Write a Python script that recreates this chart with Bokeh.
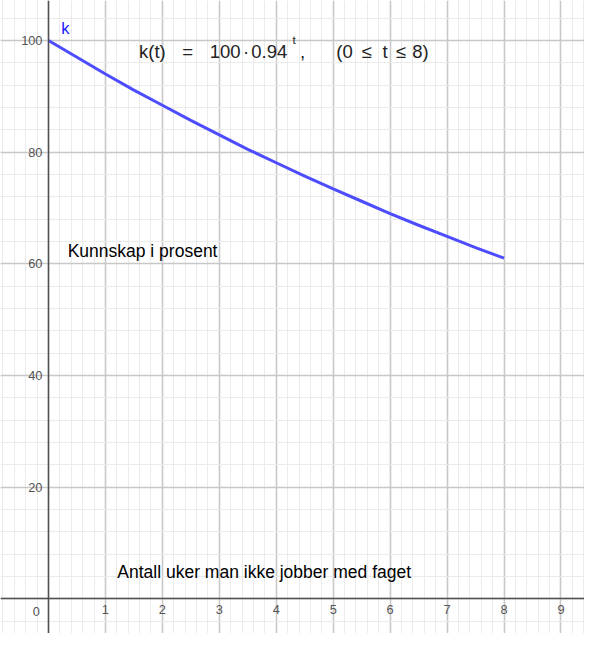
from bokeh.plotting import figure
from bokeh.models import Range1d, FixedTicker, SingleIntervalTicker
from bokeh.core.properties import value
from bokeh.embed import file_html
from bokeh.resources import INLINE

# weeks without working with the subject, knowledge in percent
t = [0, 0.5, 1, 1.5, 2, 2.5, 3, 3.5, 4, 4.5, 5, 5.5, 6, 6.5, 7, 7.5, 8]
k = [100, 97.0, 94.0, 91.1, 88.4, 85.7, 83.1, 80.5, 78.1, 75.7, 73.4, 71.2,
     69.0, 66.9, 64.9, 62.9, 61.0]
xticks = [1, 2, 3, 4, 5, 6, 7, 8, 9]
yticks = [20, 40, 60, 80, 100]

# reference pixel -> data coordinates (for placing the text labels)
def rx(px):
    return (px - 49.3) / 58.5

def ry(py):
    return (613.3 - py) / 5.723

p = figure(width=584, height=633,
           x_range=Range1d(rx(0), rx(600)), y_range=Range1d(ry(649), ry(0)),
           output_backend="svg", toolbar_location=None, min_border=0)
p.outline_line_color = None
p.background_fill_color = "white"

# grid
p.xgrid.ticker = SingleIntervalTicker(interval=1, num_minor_ticks=5)
p.ygrid.ticker = SingleIntervalTicker(interval=20, num_minor_ticks=5)
p.grid.grid_line_color = "#c8c8c8"
p.grid.grid_line_width = 1.6
p.grid.minor_grid_line_color = "#ebebeb"
p.grid.minor_grid_line_width = 1

# axes through the origin
p.xaxis.ticker = FixedTicker(ticks=xticks)
p.yaxis.ticker = FixedTicker(ticks=yticks)
for ax in (p.xaxis, p.yaxis):
    ax.fixed_location = 0
    ax.axis_line_color = "#505050"
    ax.axis_line_width = 1.5
    ax.major_tick_out = 0
    ax.major_tick_in = 0
    ax.minor_tick_out = 0
    ax.minor_tick_in = 0
    ax.major_tick_line_color = None
    ax.minor_tick_line_color = None
    ax.major_label_text_font = "Liberation Sans"
    ax.major_label_text_font_size = "12.8px"
    ax.major_label_text_color = "#555555"
p.xaxis.major_label_standoff = 6
p.yaxis.major_label_standoff = 6

p.text([rx(36.7)], [ry(626)], text=["0"], text_font=value("Liberation Sans"),
       text_font_size="12.8px", text_color="#555555",
       text_align="center", text_baseline="middle")

p.line(t, k, line_color="#4d4dff", line_width=3)

# formula
parts = ["k(t)", "=", "100", "·", "0.94", ",", "(0", "≤", "t", "≤", "8)"]
lefts = [142.3, 186.7, 215, 249.2, 257.7, 307.7, 345, 371, 392.5, 406, 423]
p.text([rx(v) for v in lefts], [ry(52.3)] * len(parts), text=parts,
       text_font=value("Liberation Sans"), text_font_size="18.5px",
       text_color="#222222", text_baseline="alphabetic")
p.text([rx(300)], [ry(40)], text=["t"], text_font=value("Liberation Sans"),
       text_font_size="11.7px", text_color="#222222", text_baseline="alphabetic")

# labels
p.text([rx(62.3)], [ry(28.3)], text=["k"], text_font=value("Liberation Sans"),
       text_font_size="16.5px", text_color="#1a1aff", text_baseline="alphabetic")
p.text([rx(69), rx(120)], [ry(256.7), ry(586)],
       text=["Kunnskap i prosent", "Antall uker man ikke jobber med faget"],
       text_font=value("Liberation Sans"), text_font_size="17.5px",
       text_color="black", text_baseline="alphabetic")

open("out.html", "w").write(file_html(p, INLINE))
